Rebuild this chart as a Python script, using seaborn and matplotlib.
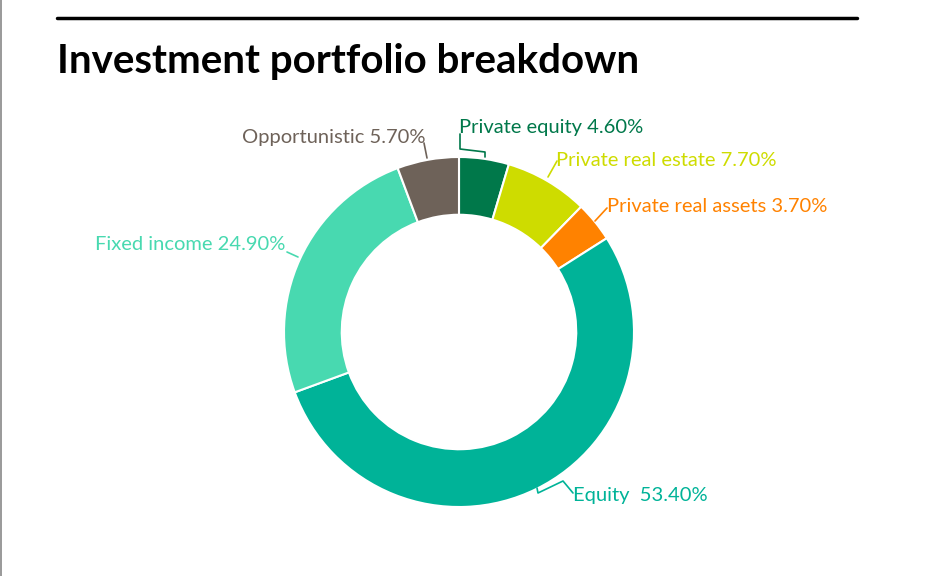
import matplotlib
matplotlib.use("Agg")
import matplotlib.pyplot as plt
import seaborn as sns
from matplotlib.lines import Line2D

# data, clockwise from 12 o'clock
labels = ["Private equity", "Private real estate", "Private real assets",
          "Equity", "Fixed income", "Opportunistic"]
shares = [4.6, 7.7, 3.7, 53.4, 24.9, 5.7]
colors = ["#00784A", "#CEDC00", "#FF8200", "#00B398", "#48D9B0", "#6E6259"]
label_texts = ["Private equity 4.60%", "Private real estate 7.70%",
               "Private real assets 3.70%", "Equity  53.40%",
               "Fixed income 24.90%", "Opportunistic 5.70%"]

sns.set_theme(style="white")
plt.rcParams["font.family"] = ["Lato", "DejaVu Sans"]

W, H = 932, 576
fig = plt.figure(figsize=(W / 100, H / 100), dpi=100)
ax = fig.add_axes([0, 0, 1, 1])


def py(y):
    # pixel row -> axis y
    return H - y


cx, cy, r = 459, py(332), 175
ax.pie(shares, colors=colors, startangle=90, counterclock=False,
       center=(cx, cy), radius=r,
       wedgeprops=dict(width=r * 0.33, edgecolor="white", linewidth=1.5))
# pie resets limits, so set them afterwards
ax.set_xlim(0, W)
ax.set_ylim(0, H)
ax.set_aspect("equal")
ax.axis("off")

# leader lines (pixel polylines) and label anchors
leaders = [
    [(485, 157), (485, 152), (460, 149), (460, 134)],
    [(548, 177), (557, 161)],
    [(595, 221), (607, 208)],
    [(537, 488), (538, 493), (563, 481), (573, 493)],
    [(298, 257), (287, 252)],
    [(427, 158), (424, 143)],
]
anchors = [(459, 127, "left"), (556, 161, "left"), (607, 206, "left"),
           (573, 496, "left"), (285, 245, "right"), (425, 137, "right")]

for pts, (tx, ty, ha), txt, c in zip(leaders, anchors, label_texts, colors):
    ax.plot([p[0] for p in pts], [py(p[1]) for p in pts], color=c, lw=1.2)
    ax.text(tx, py(ty), txt, color=c, fontsize=14.5, ha=ha, va="center")

# title and decorations
fig.text(57 / W, 1 - 62 / H, "Investment portfolio breakdown", fontsize=29,
         fontweight="bold", color="black", ha="left", va="center")
fig.add_artist(Line2D([57 / W, 857 / W], [1 - 18 / H, 1 - 18 / H],
                      color="black", lw=2.5, transform=fig.transFigure))
fig.add_artist(Line2D([0.5 / W, 0.5 / W], [0, 1], color="#888888", lw=1.2,
                      transform=fig.transFigure))

fig.savefig("out.png", dpi=100)
